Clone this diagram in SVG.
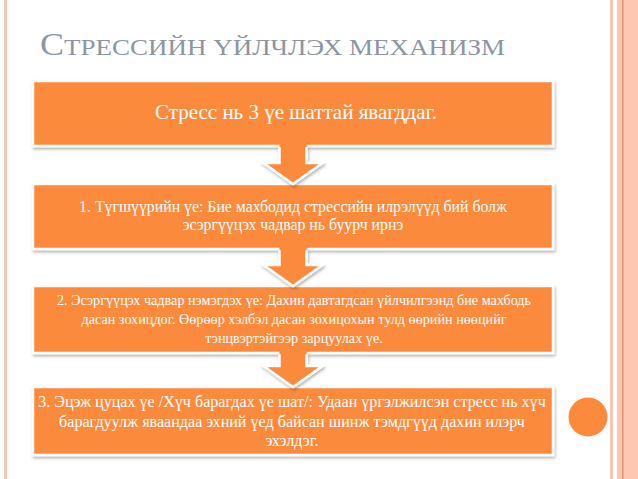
<svg xmlns="http://www.w3.org/2000/svg" width="638" height="479" viewBox="0 0 638 479">
<defs>
<filter id="sh" x="-5%" y="-10%" width="110%" height="130%">
<feDropShadow dx="1" dy="2" stdDeviation="1.5" flood-color="#000" flood-opacity="0.3"/>
</filter>
<style>
.box{fill:#fb8a3c;stroke:#ffffff;stroke-width:2.5;filter:url(#sh)}
.af{fill:#fb8a3c;stroke:none}
.as{fill:none;stroke:#ffffff;stroke-width:2.5;stroke-linejoin:miter}
.t{font-family:"Liberation Serif","Times New Roman",serif;fill:#ffffff;text-anchor:middle}
.title{font-family:"Liberation Serif","Times New Roman",serif;fill:#8c96a2}
</style>
</defs>
<rect width="638" height="479" fill="#ffffff"/>
<rect x="4" y="0" width="3" height="479" fill="#f3c8b9"/>
<rect x="610" y="0" width="3" height="479" fill="#f5c6b4"/>
<rect x="617" y="0" width="21" height="479" fill="#fdc8b2"/>
<rect x="622" y="0" width="1.5" height="479" fill="#e8926d"/>
<text class="title" x="40" y="55" font-size="24" textLength="465" lengthAdjust="spacingAndGlyphs"><tspan font-size="32">С</tspan>ТРЕССИЙН ҮЙЛЧЛЭХ МЕХАНИЗМ</text>
<circle cx="588" cy="417" r="19.5" fill="#fb8a3c"/>
<g id="node1">
<rect class="box" x="33" y="81" width="520" height="65"/>
<text class="t" x="296" y="119" font-size="21">Стресс нь 3 үе шаттай явагддаг.</text>
</g>
<g id="node2">
<rect class="box" x="33" y="184" width="520" height="65"/>
<text class="t" x="293" y="212" font-size="15.8">1. Түгшүүрийн үе: Бие махбодид стрессийн илрэлүүд бий болж</text>
<text class="t" x="293" y="230" font-size="15.8">эсэргүүцэх чадвар нь буурч ирнэ</text>
</g>
<g id="node3">
<rect class="box" x="33" y="286" width="520" height="67"/>
<text class="t" x="294" y="305" font-size="14.2">2. Эсэргүүцэх чадвар нэмэгдэх үе: Дахин давтагдсан үйлчилгээнд  бие махбодь</text>
<text class="t" x="294" y="324" font-size="14.2">дасан зохицдог. Өөрөөр хэлбэл дасан зохицохын тулд өөрийн нөөцийг</text>
<text class="t" x="294" y="343" font-size="14.2">тэнцвэртэйгээр зарцуулах үе.</text>
</g>
<g id="node4">
<rect class="box" x="33" y="387" width="520" height="68"/>
<text class="t" x="292" y="407" font-size="16.1">3. Эцэж цуцах үе /Хүч барагдах үе шат/: Удаан үргэлжилсэн стресс нь хүч</text>
<text class="t" x="292" y="427" font-size="16.1">барагдуулж яваандаа эхний үед байсан шинж тэмдгүүд дахин илэрч</text>
<text class="t" x="292" y="446" font-size="16.1">эхэлдэг.</text>
</g>
<g id="connectors">
<g filter="url(#sh)">
<path class="af" d="M279.5 142 L306.5 142 L306.5 163 L322.5 163 L293 184 L263.5 163 L279.5 163 Z"/>
<path class="as" d="M279.5 147.2 L279.5 163 L263.5 163 L293 184 L322.5 163 L306.5 163 L306.5 147.2"/>
</g>
<g filter="url(#sh)">
<path class="af" d="M279.5 245 L306.5 245 L306.5 265 L322.5 265 L293 286 L263.5 265 L279.5 265 Z"/>
<path class="as" d="M279.5 250.2 L279.5 265 L263.5 265 L293 286 L322.5 265 L306.5 265 L306.5 250.2"/>
</g>
<g filter="url(#sh)">
<path class="af" d="M279.5 349 L306.5 349 L306.5 366 L322.5 366 L293 387 L263.5 366 L279.5 366 Z"/>
<path class="as" d="M279.5 354.2 L279.5 366 L263.5 366 L293 387 L322.5 366 L306.5 366 L306.5 354.2"/>
</g>
</g>
</svg>
